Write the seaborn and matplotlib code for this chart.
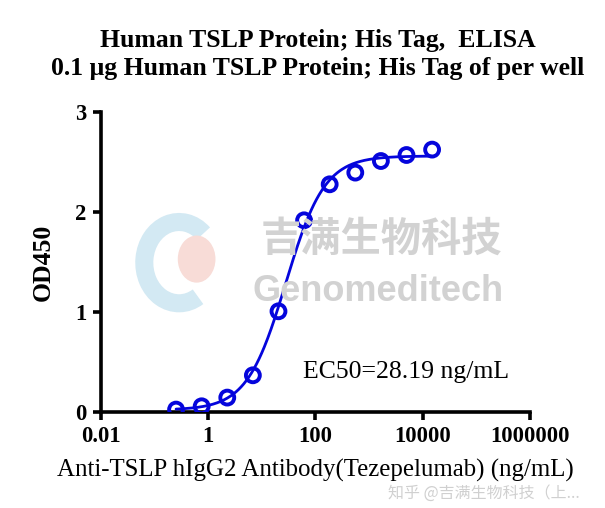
import numpy as np
import pandas as pd
import seaborn as sns
import matplotlib
matplotlib.use("Agg")
import matplotlib.pyplot as plt
from matplotlib.patches import Arc, Ellipse

# data (3-fold dilution series)
conc = [0.254, 0.762, 2.286, 6.859, 20.58, 61.73, 185.2, 555.6, 1666.7, 5000, 15000]
od450 = [0.024, 0.057, 0.144, 0.367, 1.007, 1.917, 2.277, 2.394, 2.51, 2.57, 2.624]

# 4PL fit parameters
fit_bottom = 0.02
fit_top = 2.56
fit_ec50 = 28.19
fit_hill = 1.2

x_ticks = [0.01, 1, 100, 10000, 1000000]
x_tick_labels = ["0.01", "1", "100", "10000", "1000000"]
y_ticks = [0, 1, 2, 3]

title = "Human TSLP Protein; His Tag,  ELISA\n0.1 \u03bcg Human TSLP Protein; His Tag of per well"
x_label = "Anti-TSLP hIgG2 Antibody(Tezepelumab) (ng/mL)"
y_label = "OD450"
ec50_text = "EC50=28.19 ng/mL"

BLUE = "#0505dc"

sns.set_style("ticks")
plt.rcParams['font.family'] = ['Liberation Serif', 'DejaVu Serif']
for key in ["text.color", "axes.labelcolor", "xtick.color", "ytick.color", "axes.edgecolor"]:
    plt.rcParams[key] = "black"

df = pd.DataFrame({"conc": conc, "od": od450})
xs = np.logspace(np.log10(conc[0]), np.log10(conc[-1]), 300)
curve = pd.DataFrame({
    "conc": xs,
    "od": fit_bottom + (fit_top - fit_bottom) / (1 + (fit_ec50 / xs) ** fit_hill),
})

fig = plt.figure(figsize=(6.05, 5.08), dpi=100)
ax = fig.add_axes([0.1664, 0.189, 0.7096, 0.5905])

# watermark logo (rough)
fig.patches.append(Arc((0.296, 0.483), 0.115, 0.16, theta1=55, theta2=295,
                       transform=fig.transFigure, color="#d3e9f3", lw=13, zorder=0))
fig.patches.append(Ellipse((0.325, 0.49), 0.06, 0.09, transform=fig.transFigure,
                           color="#f8dcd7", zorder=0))
fig.text(0.63, 0.53, "吉满生物科技", fontsize=29, fontweight="bold", color="#d2d2d2",
         family=["Noto Sans CJK SC", "DejaVu Sans"], ha="center", va="center", zorder=0)
fig.text(0.625, 0.427, "Genomeditech", fontsize=26, fontweight="bold", color="#d2d2d2",
         family=["Liberation Sans", "DejaVu Sans"], ha="center", va="center", zorder=0)
fig.text(0.80, 0.028, "知乎 @吉满生物科技（上...", fontsize=11.5, color="#d0d0d0",
         family=["Noto Sans CJK SC", "DejaVu Sans"], ha="center", va="center", zorder=0)

ax.set_xscale("log")
sns.lineplot(data=curve, x="conc", y="od", ax=ax, color=BLUE, linewidth=2, zorder=3)
sns.scatterplot(data=df, x="conc", y="od", ax=ax, marker="o", s=100,
                facecolor="none", edgecolor=BLUE, linewidth=2.8, zorder=4)
ax.patch.set_alpha(0)

ax.set_xlim(0.01, 1000000)
ax.set_ylim(0, 3)
ax.set_xticks(x_ticks)
ax.set_xticklabels(x_tick_labels)
ax.minorticks_off()
ax.set_yticks(y_ticks)
ax.set_yticklabels([str(v) for v in y_ticks])

sns.despine(ax=ax)
for side in ["left", "bottom"]:
    ax.spines[side].set_linewidth(2.6)
    ax.spines[side].set_color("black")
ax.tick_params(axis="both", width=2.6, length=6, labelsize=16.3, pad=4, colors="black")
for lbl in ax.get_xticklabels() + ax.get_yticklabels():
    lbl.set_fontweight("bold")

ax.set_xlabel(x_label, fontsize=17.9, labelpad=9)
ax.set_ylabel(y_label, fontsize=18.5, fontweight="bold", labelpad=15)
ax.text(0.471, 0.133, ec50_text, transform=ax.transAxes, fontsize=18.5,
        ha="left", va="center")

fig.text(0.525, 0.893, title, fontsize=18.5, fontweight="bold", ha="center",
         va="center", linespacing=1.3)

fig.savefig("out.png", dpi=100)
